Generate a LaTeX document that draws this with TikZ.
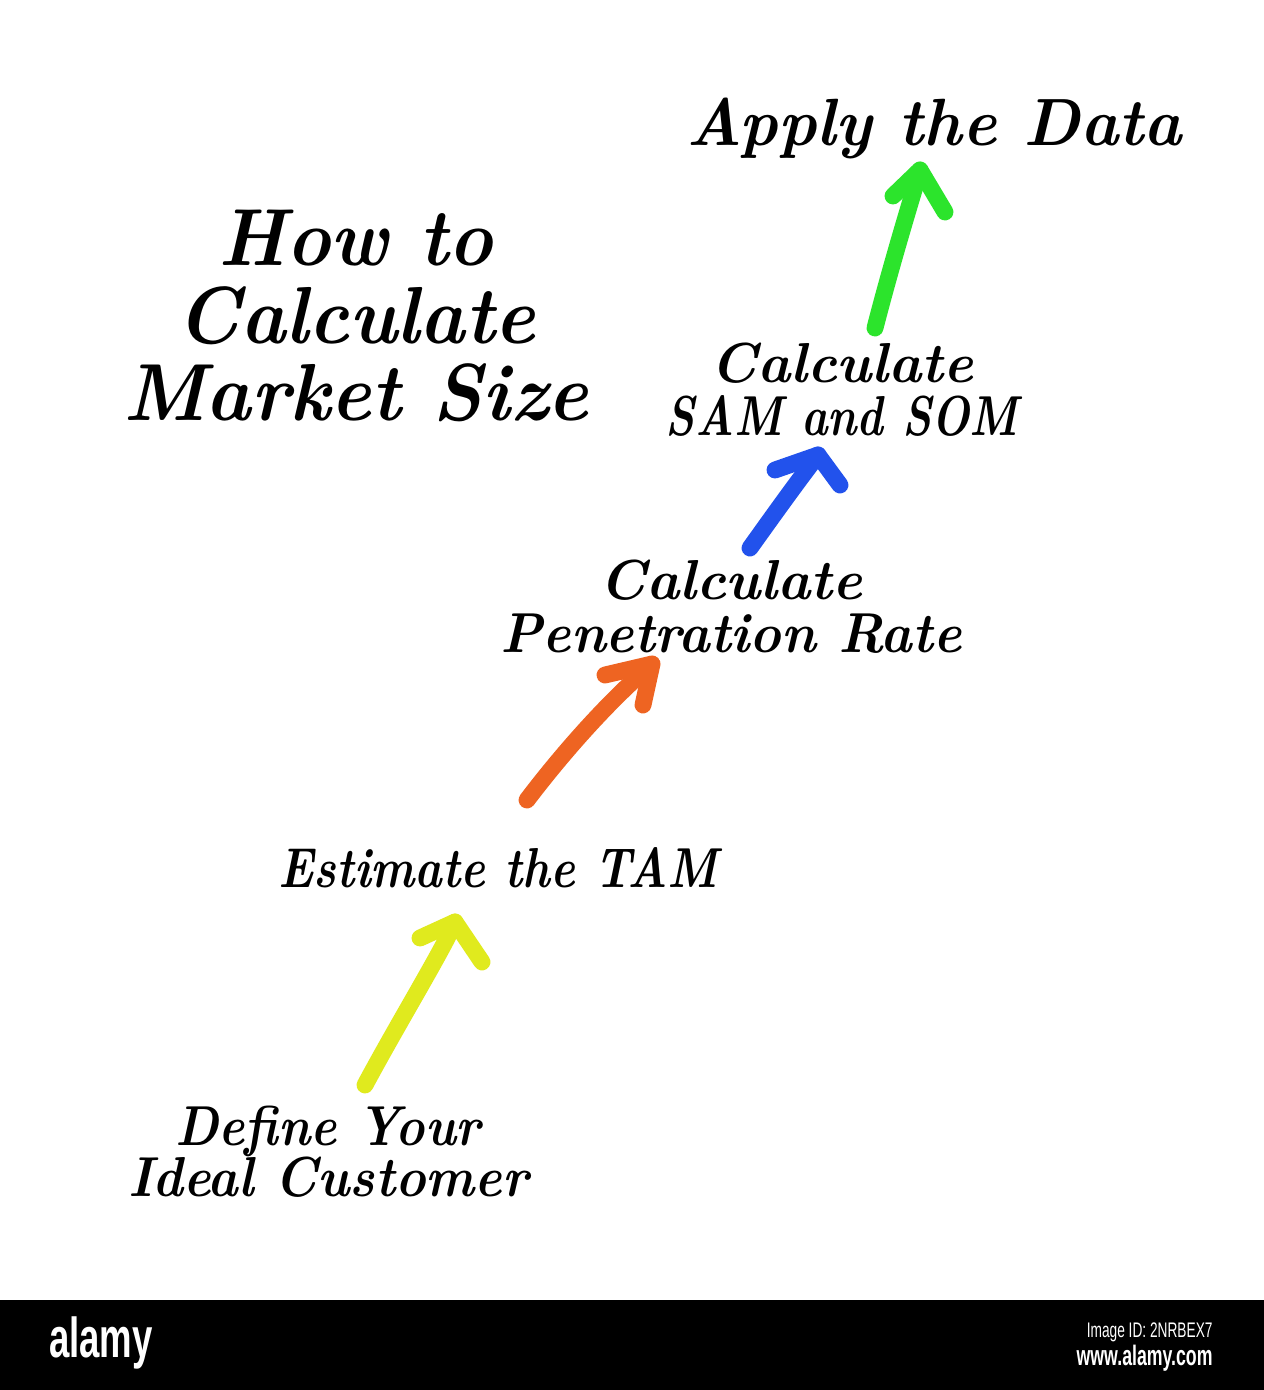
\documentclass[tikz,border=0pt]{standalone}
\usepackage{fontspec}
\newfontfamily\barfont{Liberation Sans}
\definecolor{penyellow}{RGB}{224,234,30}
\definecolor{penorange}{RGB}{238,100,34}
\definecolor{penblue}{RGB}{34,82,236}
\definecolor{pengreen}{RGB}{44,228,44}
\newcommand{\sx}[2]{\scalebox{#1}[1]{#2}}
\tikzset{
  hand/.style={inner sep=0pt, align=center, font=\bfseries\itshape},
  txt/.style={hand, font=\fontsize{16}{15}\selectfont\bfseries\itshape},
  shaft/.style={line width=4.8pt, line cap=round},
  barb/.style={line width=4.8pt, line cap=round, line join=round},
  bartext/.style={inner sep=0pt, text=white, anchor=east}
}
\begin{document}
\begin{tikzpicture}[x=0.01cm, y=-0.01cm]
\useasboundingbox (0,0) rectangle (1264,1390);
\fill[white] (0,0) rectangle (1264,1300);
% labels
\node[hand, font=\fontsize{19}{22}\selectfont\bfseries\itshape] (apply) at (934,128) {\sx{0.97}{Apply the Data}};
\node[hand, font=\fontsize{23}{22}\selectfont\bfseries\itshape] (title) at (356,316) {\sx{0.93}{How to}\\\sx{0.95}{Calculate}\\\sx{0.95}{Market Size}};
\node[txt] (sam) at (842,390) {Calculate\\\sx{0.8}{SAM and SOM}};
\node[txt] (pen) at (731,607) {Calculate\\\sx{0.95}{Penetration Rate}};
\node[txt] (tam) at (498,868) {\sx{0.83}{Estimate the TAM}};
\node[txt, font=\fontsize{16}{14.5}\selectfont\bfseries\itshape] (def) at (328,1152) {\sx{0.88}{Define Your}\\\sx{0.92}{Ideal Customer}};
% arrow coordinates
\coordinate (ys) at (365,1085); \coordinate (yt) at (455,922);
\coordinate (yl) at (420,938);  \coordinate (yr) at (482,962);
\coordinate (os) at (527,800);  \coordinate (ot) at (652,664);
\coordinate (ol) at (605,675);  \coordinate (or) at (643,705);
\coordinate (bs) at (750,548);  \coordinate (bt) at (818,455);
\coordinate (bl) at (775,470);  \coordinate (br) at (840,485);
\coordinate (gs) at (875,328);  \coordinate (gt) at (920,170);
\coordinate (gl) at (893,196);  \coordinate (gr) at (945,212);
% arrows
\draw[shaft, penyellow] (ys) .. controls (400,1020) and (440,955) .. (yt);
\draw[barb, penyellow] (yl) -- (yt) -- (yr);
\draw[shaft, penorange] (os) .. controls (565,750) and (610,700) .. (ot);
\draw[barb, penorange] (ol) -- (ot) -- (or);
\draw[shaft, penblue] (bs) .. controls (770,520) and (795,485) .. (bt);
\draw[barb, penblue] (bl) -- (bt) -- (br);
\draw[shaft, pengreen] (gs) .. controls (890,270) and (905,220) .. (gt);
\draw[barb, pengreen] (gl) -- (gt) -- (gr);
% bottom bar
\fill[black] (0,1300) rectangle (1264,1390);
\node[inner sep=0pt, text=white, font=\barfont\bfseries\fontsize{16}{16}\selectfont, xscale=0.65] (logo) at (101,1343) {alamy};
\node[bartext, font=\barfont\fontsize{6}{6}\selectfont, xscale=0.65] (imgid) at (1213,1332) {Image ID: 2NRBEX7};
\node[bartext, font=\barfont\bfseries\fontsize{8}{8}\selectfont, xscale=0.63] (www) at (1213,1358) {www.alamy.com};
\end{tikzpicture}
\end{document}
